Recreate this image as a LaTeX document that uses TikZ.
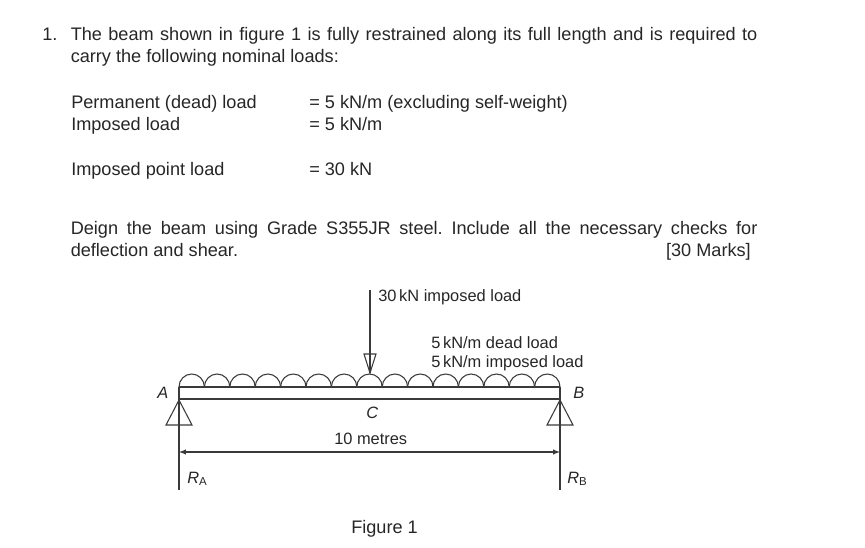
\documentclass[tikz,border=0pt]{standalone}
\usepackage{fontspec}
\setmainfont{Liberation Sans}
\frenchspacing
\definecolor{inktext}{HTML}{262626}
\definecolor{inkline}{HTML}{3A3A3A}
\tikzset{
    body/.style={anchor=base west, inner sep=0pt, text=inktext, font=\fontsize{13.6}{17.2}\selectfont},
    para/.style={body, text width=515pt, align=justify},
    tag/.style={anchor=base west, inner sep=0pt, text=inktext, font=\fontsize{12.3}{14}\selectfont},
    member/.style={draw=inkline, line width=0.8pt},
    support/.style={draw=inkline, line width=0.8pt},
}
\begin{document}
\begin{tikzpicture}[x=0.75pt, y=0.75pt]
    \useasboundingbox (0,0) rectangle (865,-547);

    % question text
    \node[body] (num) at (42,-40) {1.};
    \node[para] (intro) at (70.5,-40) {The beam shown in figure 1 is fully restrained along its full length and is required to\linebreak carry the following nominal loads:};
    \node[body] (dead) at (71,-108) {Permanent (dead) load};
    \node[body] (deadval) at (309,-108) {= 5 kN/m (excluding self-weight)};
    \node[body] (imp) at (71,-130) {Imposed load};
    \node[body] (impval) at (309,-130) {= 5 kN/m};
    \node[body] (point) at (71,-175) {Imposed point load};
    \node[body] (pointval) at (309,-175) {= 30 kN};
    \node[para] (design) at (70.5,-234) {Deign the beam using Grade S355JR steel. Include all the necessary checks for\linebreak deflection and shear.};
    \node[body, anchor=base east] (marks) at (751,-256) {[30 Marks]};

    % beam
    \coordinate (tl) at (179,-387);
    \coordinate (tr) at (560,-387);
    \coordinate (bl) at (179,-399);
    \coordinate (br) at (560,-399);
    \draw[member] (tl) -- (tr);
    \draw[member] (bl) -- (br);

    % distributed load
    \foreach \i in {0,...,14}
    {
        \draw[member] (179+25.4*\i,-387) arc[start angle=180, end angle=0, x radius=9.525pt, y radius=9.75pt];
    }

    % supports and reactions
    \coordinate (ra) at (179,-490);
    \coordinate (rb) at (560,-490);
    \draw[member] (tl) -- (ra);
    \draw[member] (tr) -- (rb);
    \draw[support] (179,-400) -- (192,-425) -- (166,-425) -- cycle;
    \draw[support] (560,-400) -- (573,-425) -- (547,-425) -- cycle;

    % point load
    \coordinate (pt) at (370,-290);
    \coordinate (ph) at (370,-373);
    \draw[member] (pt) -- (ph);
    \draw[support] (ph) -- (364,-354) -- (376,-354) -- cycle;

    % span
    \coordinate (sl) at (179,-452);
    \coordinate (sr) at (560,-452);
    \draw[member, <->, >=latex] (sl) -- (sr);

    % labels
    \node[tag] (lp) at (378,-301) {30\,kN imposed load};
    \node[tag] (ld) at (431,-348) {5\,kN/m dead load};
    \node[tag] (li) at (431,-367) {5\,kN/m imposed load};
    \node[tag] (la) at (157,-398) {\itshape A};
    \node[tag] (lb) at (573,-398) {\itshape B};
    \node[tag] (lc) at (366,-418) {\itshape C};
    \node[tag] (ls) at (334,-444) {10 metres};
    \node[tag] (lra) at (187,-483) {\itshape R\textsubscript{\upshape A}};
    \node[tag] (lrb) at (567,-483) {\itshape R\textsubscript{\upshape B}};
    \node[body] (fig) at (351,-533) {Figure 1};
\end{tikzpicture}
\end{document}
